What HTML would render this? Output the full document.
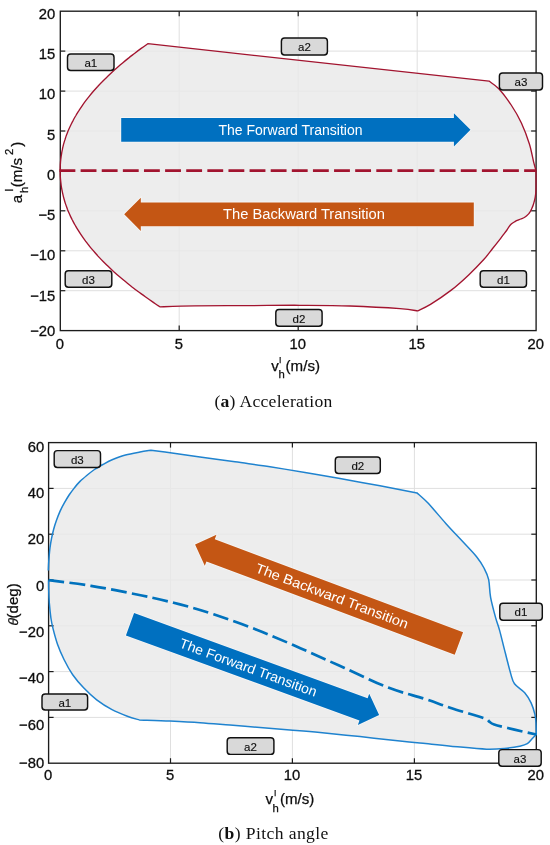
<!DOCTYPE html>
<html lang="en"><head><meta charset="utf-8"><title>Transition envelopes</title>
<style>html,body{margin:0;padding:0;background:#fff}svg{display:block}</style></head>
<body>
<svg width="550" height="845" viewBox="0 0 550 845" font-family="'Liberation Sans', Arial, sans-serif">
<rect width="550" height="845" fill="#fff"/>
<g stroke="#dfdfdf" stroke-width="1"><line x1="179.2" y1="11.2" x2="179.2" y2="330.6"/><line x1="298.2" y1="11.2" x2="298.2" y2="330.6"/><line x1="417.2" y1="11.2" x2="417.2" y2="330.6"/><line x1="60.3" y1="290.7" x2="536.1" y2="290.7"/><line x1="60.3" y1="250.8" x2="536.1" y2="250.8"/><line x1="60.3" y1="210.8" x2="536.1" y2="210.8"/><line x1="60.3" y1="170.9" x2="536.1" y2="170.9"/><line x1="60.3" y1="131.0" x2="536.1" y2="131.0"/><line x1="60.3" y1="91.1" x2="536.1" y2="91.1"/><line x1="60.3" y1="51.1" x2="536.1" y2="51.1"/></g>
<path d="M60.2 170.5 C60.2 169.6 60.2 166.9 60.3 165.1 C60.4 163.4 60.5 161.7 60.7 160.0 C60.9 158.3 61.1 156.6 61.4 154.9 C61.6 153.2 61.9 151.5 62.3 149.9 C62.6 148.2 63.0 146.5 63.4 144.9 C63.9 143.2 64.3 141.6 64.9 139.9 C65.4 138.3 65.9 136.6 66.5 135.0 C67.2 133.4 67.8 131.7 68.5 130.1 C69.2 128.4 69.9 126.8 70.7 125.2 C71.5 123.6 72.3 121.9 73.2 120.3 C74.0 118.7 74.9 117.1 75.9 115.5 C76.8 113.8 77.8 112.2 78.9 110.6 C79.9 109.0 81.0 107.4 82.1 105.8 C83.2 104.2 84.4 102.5 85.6 100.9 C86.8 99.3 88.1 97.7 89.4 96.1 C90.7 94.5 92.0 92.9 93.4 91.3 C94.8 89.7 96.2 88.1 97.7 86.5 C99.1 84.9 100.6 83.3 102.2 81.7 C103.7 80.1 105.3 78.6 107.0 77.0 C108.6 75.4 110.3 73.8 112.0 72.2 C113.8 70.6 115.5 69.0 117.3 67.4 C119.2 65.8 121.0 64.3 122.9 62.7 C124.8 61.1 126.8 59.5 128.8 57.9 C130.7 56.3 132.8 54.8 134.8 53.2 C136.9 51.6 139.0 50.0 141.2 48.4 C143.4 46.9 146.7 44.5 147.8 43.7 L489.0 81.1 C490.6 82.4 495.1 84.8 498.8 88.8 C502.5 92.8 507.4 99.3 511.2 105.0 C515.0 110.7 518.4 116.5 521.4 123.0 C524.4 129.5 527.4 137.5 529.4 144.0 C531.4 150.5 532.5 157.4 533.6 161.8 C534.7 166.2 535.6 169.2 536.0 170.7 C536.0 173.2 536.0 181.8 536.0 185.5 C536.0 189.2 535.9 190.6 535.8 192.6 C535.7 194.6 535.4 195.9 535.2 197.3 C535.0 198.7 534.7 199.6 534.4 200.9 C534.1 202.2 533.6 203.8 533.2 205.0 C532.8 206.2 532.4 207.1 532.0 208.0 C531.6 208.9 531.3 209.7 530.8 210.6 C530.3 211.5 529.8 212.5 529.1 213.3 C528.4 214.2 527.5 215.0 526.7 215.7 C525.9 216.4 525.3 216.9 524.3 217.5 C523.3 218.1 522.0 218.5 520.8 219.0 C519.6 219.5 518.3 219.9 517.2 220.4 C516.1 220.9 515.3 221.4 514.3 222.0 C513.3 222.6 512.2 223.2 511.3 224.0 C510.4 224.8 509.7 225.8 508.9 226.9 C508.1 228.0 507.6 229.1 506.6 230.5 C505.6 231.9 504.2 233.6 503.0 235.2 C501.8 236.8 501.3 237.6 499.5 239.9 C497.7 242.2 495.0 245.6 492.4 248.8 C489.8 252.0 487.9 255.0 484.0 259.3 C480.1 263.6 474.2 269.7 468.7 274.9 C463.2 280.1 457.3 285.5 450.9 290.4 C444.5 295.3 436.1 301.0 430.5 304.4 C424.9 307.8 419.8 309.8 417.6 310.9 C414.7 310.5 411.3 309.4 400.0 308.6 C388.7 307.8 366.7 306.6 350.0 306.0 C333.3 305.4 316.7 305.4 300.0 305.3 C283.3 305.2 267.5 305.5 250.0 305.6 C232.5 305.7 210.0 305.7 195.0 305.9 C180.0 306.1 165.9 306.7 160.1 306.9 C158.8 306.1 155.0 303.5 152.6 301.9 C150.1 300.2 147.7 298.5 145.3 296.8 C143.0 295.1 140.6 293.4 138.4 291.8 C136.1 290.1 133.9 288.4 131.7 286.7 C129.6 285.0 127.4 283.3 125.4 281.6 C123.3 279.9 121.3 278.2 119.3 276.5 C117.3 274.8 115.4 273.1 113.5 271.4 C111.7 269.7 109.9 268.0 108.1 266.3 C106.3 264.6 104.6 262.9 102.9 261.2 C101.2 259.5 99.6 257.8 98.0 256.1 C96.5 254.4 94.9 252.7 93.5 250.9 C92.0 249.2 90.5 247.5 89.2 245.8 C87.8 244.1 86.5 242.3 85.2 240.6 C83.9 238.9 82.7 237.2 81.5 235.4 C80.3 233.7 79.2 232.0 78.1 230.2 C77.0 228.5 76.0 226.7 75.0 225.0 C74.0 223.3 73.1 221.5 72.2 219.8 C71.3 218.0 70.4 216.3 69.7 214.5 C68.9 212.7 68.1 211.0 67.4 209.2 C66.8 207.4 66.1 205.7 65.5 203.9 C64.9 202.1 64.4 200.3 63.9 198.5 C63.4 196.7 63.0 194.9 62.6 193.1 C62.2 191.3 61.8 189.5 61.5 187.7 C61.2 185.8 61.0 184.0 60.8 182.1 C60.6 180.3 60.4 178.4 60.3 176.5 C60.2 174.5 60.2 171.5 60.2 170.5 Z" fill="#e8e8e8" fill-opacity="0.8" stroke="none"/>
<rect x="60.3" y="11.2" width="475.8" height="319.4" fill="none" stroke="#1c1c1c" stroke-width="1.35"/>
<g stroke="#1c1c1c" stroke-width="1.2"><line x1="179.2" y1="330.6" x2="179.2" y2="325.6"/><line x1="179.2" y1="11.2" x2="179.2" y2="16.2"/><line x1="298.2" y1="330.6" x2="298.2" y2="325.6"/><line x1="298.2" y1="11.2" x2="298.2" y2="16.2"/><line x1="417.2" y1="330.6" x2="417.2" y2="325.6"/><line x1="417.2" y1="11.2" x2="417.2" y2="16.2"/><line x1="60.3" y1="290.7" x2="65.3" y2="290.7"/><line x1="536.1" y1="290.7" x2="531.1" y2="290.7"/><line x1="60.3" y1="250.8" x2="65.3" y2="250.8"/><line x1="536.1" y1="250.8" x2="531.1" y2="250.8"/><line x1="60.3" y1="210.8" x2="65.3" y2="210.8"/><line x1="536.1" y1="210.8" x2="531.1" y2="210.8"/><line x1="60.3" y1="170.9" x2="65.3" y2="170.9"/><line x1="536.1" y1="170.9" x2="531.1" y2="170.9"/><line x1="60.3" y1="131.0" x2="65.3" y2="131.0"/><line x1="536.1" y1="131.0" x2="531.1" y2="131.0"/><line x1="60.3" y1="91.1" x2="65.3" y2="91.1"/><line x1="536.1" y1="91.1" x2="531.1" y2="91.1"/><line x1="60.3" y1="51.1" x2="65.3" y2="51.1"/><line x1="536.1" y1="51.1" x2="531.1" y2="51.1"/></g>
<path d="M60.2 170.5 C60.2 169.6 60.2 166.9 60.3 165.1 C60.4 163.4 60.5 161.7 60.7 160.0 C60.9 158.3 61.1 156.6 61.4 154.9 C61.6 153.2 61.9 151.5 62.3 149.9 C62.6 148.2 63.0 146.5 63.4 144.9 C63.9 143.2 64.3 141.6 64.9 139.9 C65.4 138.3 65.9 136.6 66.5 135.0 C67.2 133.4 67.8 131.7 68.5 130.1 C69.2 128.4 69.9 126.8 70.7 125.2 C71.5 123.6 72.3 121.9 73.2 120.3 C74.0 118.7 74.9 117.1 75.9 115.5 C76.8 113.8 77.8 112.2 78.9 110.6 C79.9 109.0 81.0 107.4 82.1 105.8 C83.2 104.2 84.4 102.5 85.6 100.9 C86.8 99.3 88.1 97.7 89.4 96.1 C90.7 94.5 92.0 92.9 93.4 91.3 C94.8 89.7 96.2 88.1 97.7 86.5 C99.1 84.9 100.6 83.3 102.2 81.7 C103.7 80.1 105.3 78.6 107.0 77.0 C108.6 75.4 110.3 73.8 112.0 72.2 C113.8 70.6 115.5 69.0 117.3 67.4 C119.2 65.8 121.0 64.3 122.9 62.7 C124.8 61.1 126.8 59.5 128.8 57.9 C130.7 56.3 132.8 54.8 134.8 53.2 C136.9 51.6 139.0 50.0 141.2 48.4 C143.4 46.9 146.7 44.5 147.8 43.7 L489.0 81.1 C490.6 82.4 495.1 84.8 498.8 88.8 C502.5 92.8 507.4 99.3 511.2 105.0 C515.0 110.7 518.4 116.5 521.4 123.0 C524.4 129.5 527.4 137.5 529.4 144.0 C531.4 150.5 532.5 157.4 533.6 161.8 C534.7 166.2 535.6 169.2 536.0 170.7 C536.0 173.2 536.0 181.8 536.0 185.5 C536.0 189.2 535.9 190.6 535.8 192.6 C535.7 194.6 535.4 195.9 535.2 197.3 C535.0 198.7 534.7 199.6 534.4 200.9 C534.1 202.2 533.6 203.8 533.2 205.0 C532.8 206.2 532.4 207.1 532.0 208.0 C531.6 208.9 531.3 209.7 530.8 210.6 C530.3 211.5 529.8 212.5 529.1 213.3 C528.4 214.2 527.5 215.0 526.7 215.7 C525.9 216.4 525.3 216.9 524.3 217.5 C523.3 218.1 522.0 218.5 520.8 219.0 C519.6 219.5 518.3 219.9 517.2 220.4 C516.1 220.9 515.3 221.4 514.3 222.0 C513.3 222.6 512.2 223.2 511.3 224.0 C510.4 224.8 509.7 225.8 508.9 226.9 C508.1 228.0 507.6 229.1 506.6 230.5 C505.6 231.9 504.2 233.6 503.0 235.2 C501.8 236.8 501.3 237.6 499.5 239.9 C497.7 242.2 495.0 245.6 492.4 248.8 C489.8 252.0 487.9 255.0 484.0 259.3 C480.1 263.6 474.2 269.7 468.7 274.9 C463.2 280.1 457.3 285.5 450.9 290.4 C444.5 295.3 436.1 301.0 430.5 304.4 C424.9 307.8 419.8 309.8 417.6 310.9 C414.7 310.5 411.3 309.4 400.0 308.6 C388.7 307.8 366.7 306.6 350.0 306.0 C333.3 305.4 316.7 305.4 300.0 305.3 C283.3 305.2 267.5 305.5 250.0 305.6 C232.5 305.7 210.0 305.7 195.0 305.9 C180.0 306.1 165.9 306.7 160.1 306.9 C158.8 306.1 155.0 303.5 152.6 301.9 C150.1 300.2 147.7 298.5 145.3 296.8 C143.0 295.1 140.6 293.4 138.4 291.8 C136.1 290.1 133.9 288.4 131.7 286.7 C129.6 285.0 127.4 283.3 125.4 281.6 C123.3 279.9 121.3 278.2 119.3 276.5 C117.3 274.8 115.4 273.1 113.5 271.4 C111.7 269.7 109.9 268.0 108.1 266.3 C106.3 264.6 104.6 262.9 102.9 261.2 C101.2 259.5 99.6 257.8 98.0 256.1 C96.5 254.4 94.9 252.7 93.5 250.9 C92.0 249.2 90.5 247.5 89.2 245.8 C87.8 244.1 86.5 242.3 85.2 240.6 C83.9 238.9 82.7 237.2 81.5 235.4 C80.3 233.7 79.2 232.0 78.1 230.2 C77.0 228.5 76.0 226.7 75.0 225.0 C74.0 223.3 73.1 221.5 72.2 219.8 C71.3 218.0 70.4 216.3 69.7 214.5 C68.9 212.7 68.1 211.0 67.4 209.2 C66.8 207.4 66.1 205.7 65.5 203.9 C64.9 202.1 64.4 200.3 63.9 198.5 C63.4 196.7 63.0 194.9 62.6 193.1 C62.2 191.3 61.8 189.5 61.5 187.7 C61.2 185.8 61.0 184.0 60.8 182.1 C60.6 180.3 60.4 178.4 60.3 176.5 C60.2 174.5 60.2 171.5 60.2 170.5 Z" fill="none" stroke="#a2142f" stroke-width="1.35" stroke-linejoin="round"/>
<line x1="59.5" y1="170.6" x2="536.1" y2="170.6" stroke="#a2142f" stroke-width="2.7" stroke-dasharray="15.85 5.27"/>
<g font-size="14.8" fill="#0d0d0d" stroke="#0d0d0d" stroke-width="0.3"><text x="59.9" y="348.7" text-anchor="middle">0</text><text x="178.8" y="348.7" text-anchor="middle">5</text><text x="297.8" y="348.7" text-anchor="middle">10</text><text x="416.8" y="348.7" text-anchor="middle">15</text><text x="535.7" y="348.7" text-anchor="middle">20</text><text x="55.3" y="336.2" text-anchor="end">−20</text><text x="55.3" y="300.6" text-anchor="end">−15</text><text x="55.3" y="260.4" text-anchor="end">−10</text><text x="55.3" y="220.2" text-anchor="end">−5</text><text x="55.3" y="179.9" text-anchor="end">0</text><text x="55.3" y="139.7" text-anchor="end">5</text><text x="55.3" y="99.4" text-anchor="end">10</text><text x="55.3" y="59.1" text-anchor="end">15</text><text x="55.3" y="18.9" text-anchor="end">20</text></g>
<g fill="#0d0d0d" stroke="#0d0d0d" stroke-width="0.25"><text x="285.6" y="371" font-size="15.1">(m/s)</text><text x="271.3" y="371" font-size="15.1">v</text><text x="278.4" y="378.4" font-size="11.3">h</text><text x="278.9" y="363.3" font-size="8.6">I</text></g>
<g fill="#0d0d0d" stroke="#0d0d0d" stroke-width="0.25" transform="translate(22,203.3) rotate(-90)"><text x="0" y="0" font-size="15.1">a</text><text x="10.2" y="5.9" font-size="11.3">h</text><text x="11.5" y="-9" font-size="11.6">I</text><text x="16.1" y="0" font-size="15.1">(m/s</text><text x="48.2" y="-9" font-size="11.3">2</text><text x="56.6" y="0" font-size="15.1">)</text></g>
<g transform="translate(121.2,129.8)"><path d="M0 -11.90 L332.70 -11.90 L332.70 -16.60 L349.30 0 L332.70 16.60 L332.70 11.90 L0 11.90 Z" fill="#0070c0" stroke="#fff" stroke-width="1.6" stroke-opacity="0.5" paint-order="stroke"/></g>
<g transform="translate(473.8,214.3) rotate(180)"><path d="M0 -11.90 L333.00 -11.90 L333.00 -16.60 L349.60 0 L333.00 16.60 L333.00 11.90 L0 11.90 Z" fill="#c45614" stroke="#fff" stroke-width="1.6" stroke-opacity="0.5" paint-order="stroke"/></g>
<text x="290.5" y="134.6" text-anchor="middle" font-size="13.8" fill="#fff" textLength="144" lengthAdjust="spacingAndGlyphs">The Forward Transition</text>
<text x="304" y="219.1" text-anchor="middle" font-size="13.8" fill="#fff" textLength="162" lengthAdjust="spacingAndGlyphs">The Backward Transition</text>
<rect x="67.5" y="54.0" width="46.5" height="16.5" rx="3.2" ry="3.2" fill="#d9d9d9" stroke="#111" stroke-width="1.45"/><text x="90.8" y="67.0" text-anchor="middle" font-size="11.5" fill="#111" stroke="#111" stroke-width="0.15">a1</text>
<rect x="281.4" y="38.0" width="46.0" height="17.0" rx="3.2" ry="3.2" fill="#d9d9d9" stroke="#111" stroke-width="1.45"/><text x="304.4" y="51.2" text-anchor="middle" font-size="11.5" fill="#111" stroke="#111" stroke-width="0.15">a2</text>
<rect x="499.4" y="72.9" width="43.1" height="17.0" rx="3.2" ry="3.2" fill="#d9d9d9" stroke="#111" stroke-width="1.45"/><text x="521.0" y="86.1" text-anchor="middle" font-size="11.5" fill="#111" stroke="#111" stroke-width="0.15">a3</text>
<rect x="480.2" y="270.7" width="46.3" height="16.6" rx="3.2" ry="3.2" fill="#d9d9d9" stroke="#111" stroke-width="1.45"/><text x="503.4" y="283.7" text-anchor="middle" font-size="11.5" fill="#111" stroke="#111" stroke-width="0.15">d1</text>
<rect x="275.8" y="309.5" width="46.3" height="16.8" rx="3.2" ry="3.2" fill="#d9d9d9" stroke="#111" stroke-width="1.45"/><text x="299.0" y="322.6" text-anchor="middle" font-size="11.5" fill="#111" stroke="#111" stroke-width="0.15">d2</text>
<rect x="65.2" y="270.7" width="46.6" height="16.6" rx="3.2" ry="3.2" fill="#d9d9d9" stroke="#111" stroke-width="1.45"/><text x="88.5" y="283.7" text-anchor="middle" font-size="11.5" fill="#111" stroke="#111" stroke-width="0.15">d3</text>
<g font-family="'Liberation Serif', 'Times New Roman', serif" font-size="17.6" fill="#111"><text x="214.4" y="406.6" textLength="117.9" lengthAdjust="spacing">(<tspan font-weight="bold">a</tspan>) Acceleration</text></g>
<g stroke="#dfdfdf" stroke-width="1"><line x1="170.5" y1="442.6" x2="170.5" y2="763.2"/><line x1="292.4" y1="442.6" x2="292.4" y2="763.2"/><line x1="414.4" y1="442.6" x2="414.4" y2="763.2"/><line x1="48.6" y1="717.4" x2="536.3" y2="717.4"/><line x1="48.6" y1="671.6" x2="536.3" y2="671.6"/><line x1="48.6" y1="625.8" x2="536.3" y2="625.8"/><line x1="48.6" y1="580.0" x2="536.3" y2="580.0"/><line x1="48.6" y1="534.2" x2="536.3" y2="534.2"/><line x1="48.6" y1="488.4" x2="536.3" y2="488.4"/></g>
<path d="M48.3 570.5 C48.4 568.8 48.5 564.3 48.8 560.5 C49.1 556.7 49.5 551.4 50.0 547.7 C50.5 544.1 50.9 541.6 51.5 538.6 C52.1 535.6 52.8 532.5 53.6 529.5 C54.4 526.5 55.3 523.5 56.4 520.5 C57.5 517.5 58.7 514.3 60.0 511.4 C61.3 508.5 62.7 505.9 64.2 503.2 C65.7 500.5 67.4 497.6 69.1 495.0 C70.8 492.4 72.7 490.0 74.5 487.7 C76.3 485.4 77.9 483.5 80.0 481.4 C82.1 479.3 84.9 477.0 87.3 475.0 C89.7 473.0 91.8 471.3 94.5 469.5 C97.2 467.7 100.6 465.8 103.6 464.1 C106.6 462.4 109.0 461.0 112.7 459.5 C116.4 458.0 121.0 456.2 125.5 455.0 C130.1 453.8 135.8 452.8 140.0 452.0 C144.2 451.2 149.1 450.5 150.9 450.2 C153.2 450.5 156.8 451.0 165.0 452.1 C173.2 453.2 188.3 455.3 200.0 456.9 C211.7 458.5 223.3 460.1 235.0 461.8 C246.7 463.5 258.3 465.0 270.0 466.8 C281.7 468.6 293.3 470.5 305.0 472.5 C316.7 474.5 327.5 476.4 340.0 478.6 C352.5 480.8 367.2 483.4 380.0 485.8 C392.8 488.2 410.8 491.7 417.0 492.9 C418.8 494.6 423.2 498.0 428.0 503.1 C432.8 508.2 439.9 516.8 445.8 523.4 C451.7 530.0 458.5 537.0 463.6 542.5 C468.7 548.0 473.0 552.2 476.4 556.5 C479.8 560.8 482.0 564.2 484.0 568.0 C486.0 571.8 487.5 574.5 488.6 579.4 C489.7 584.3 489.4 590.9 490.6 597.3 C491.8 603.7 494.1 612.1 495.6 617.6 C497.1 623.1 498.0 624.5 499.6 630.4 C501.2 636.3 503.5 646.1 505.4 653.3 C507.2 660.5 509.2 668.5 510.7 673.6 C512.2 678.7 512.2 680.6 514.5 683.8 C516.8 687.0 521.9 689.5 524.7 692.7 C527.5 695.9 529.4 699.3 531.1 702.9 C532.8 706.5 534.1 711.0 534.9 714.4 C535.7 717.8 535.8 719.9 536.0 723.3 C536.2 726.6 536.2 732.6 536.3 734.5 C535.6 735.2 533.8 737.0 532.3 738.5 C530.8 740.0 529.4 742.3 527.3 743.6 C525.2 744.9 523.0 745.4 519.6 746.2 C516.2 747.0 512.4 747.7 506.9 748.2 C501.4 748.7 495.8 749.5 486.5 749.2 C477.2 748.9 461.1 747.1 450.9 746.2 C440.7 745.3 434.0 744.5 425.5 743.6 C417.0 742.8 410.9 742.3 400.0 741.1 C389.1 739.9 373.3 738.0 360.0 736.6 C346.7 735.2 331.7 733.6 320.0 732.5 C308.3 731.4 300.0 730.8 290.0 730.0 C280.0 729.2 270.0 728.4 260.0 727.6 C250.0 726.8 240.0 725.9 230.0 725.1 C220.0 724.3 210.0 723.4 200.0 722.7 C190.0 722.0 180.1 721.5 170.0 721.0 C159.9 720.5 144.4 720.1 139.3 719.9 C137.3 719.3 131.8 717.9 127.3 716.2 C122.8 714.5 117.1 712.3 112.0 709.6 C106.9 706.9 101.4 703.4 96.7 699.8 C92.0 696.2 87.6 692.0 83.6 687.8 C79.6 683.6 76.0 679.4 72.7 674.7 C69.4 670.0 66.5 664.6 64.0 659.5 C61.5 654.4 59.3 649.3 57.5 644.2 C55.7 639.1 54.2 633.3 53.1 628.9 C52.0 624.5 51.5 622.4 50.9 618.0 C50.3 613.6 49.7 607.4 49.3 602.7 C48.9 598.0 48.8 593.8 48.7 590.0 C48.6 586.2 48.6 581.8 48.6 580.2 Z" fill="#e8e8e8" fill-opacity="0.8" stroke="none"/>
<rect x="48.6" y="442.6" width="487.7" height="320.6" fill="none" stroke="#1c1c1c" stroke-width="1.35"/>
<g stroke="#1c1c1c" stroke-width="1.2"><line x1="170.5" y1="763.2" x2="170.5" y2="758.2"/><line x1="170.5" y1="442.6" x2="170.5" y2="447.6"/><line x1="292.4" y1="763.2" x2="292.4" y2="758.2"/><line x1="292.4" y1="442.6" x2="292.4" y2="447.6"/><line x1="414.4" y1="763.2" x2="414.4" y2="758.2"/><line x1="414.4" y1="442.6" x2="414.4" y2="447.6"/><line x1="48.6" y1="717.4" x2="53.6" y2="717.4"/><line x1="536.3" y1="717.4" x2="531.3" y2="717.4"/><line x1="48.6" y1="671.6" x2="53.6" y2="671.6"/><line x1="536.3" y1="671.6" x2="531.3" y2="671.6"/><line x1="48.6" y1="625.8" x2="53.6" y2="625.8"/><line x1="536.3" y1="625.8" x2="531.3" y2="625.8"/><line x1="48.6" y1="580.0" x2="53.6" y2="580.0"/><line x1="536.3" y1="580.0" x2="531.3" y2="580.0"/><line x1="48.6" y1="534.2" x2="53.6" y2="534.2"/><line x1="536.3" y1="534.2" x2="531.3" y2="534.2"/><line x1="48.6" y1="488.4" x2="53.6" y2="488.4"/><line x1="536.3" y1="488.4" x2="531.3" y2="488.4"/></g>
<path d="M48.3 570.5 C48.4 568.8 48.5 564.3 48.8 560.5 C49.1 556.7 49.5 551.4 50.0 547.7 C50.5 544.1 50.9 541.6 51.5 538.6 C52.1 535.6 52.8 532.5 53.6 529.5 C54.4 526.5 55.3 523.5 56.4 520.5 C57.5 517.5 58.7 514.3 60.0 511.4 C61.3 508.5 62.7 505.9 64.2 503.2 C65.7 500.5 67.4 497.6 69.1 495.0 C70.8 492.4 72.7 490.0 74.5 487.7 C76.3 485.4 77.9 483.5 80.0 481.4 C82.1 479.3 84.9 477.0 87.3 475.0 C89.7 473.0 91.8 471.3 94.5 469.5 C97.2 467.7 100.6 465.8 103.6 464.1 C106.6 462.4 109.0 461.0 112.7 459.5 C116.4 458.0 121.0 456.2 125.5 455.0 C130.1 453.8 135.8 452.8 140.0 452.0 C144.2 451.2 149.1 450.5 150.9 450.2 C153.2 450.5 156.8 451.0 165.0 452.1 C173.2 453.2 188.3 455.3 200.0 456.9 C211.7 458.5 223.3 460.1 235.0 461.8 C246.7 463.5 258.3 465.0 270.0 466.8 C281.7 468.6 293.3 470.5 305.0 472.5 C316.7 474.5 327.5 476.4 340.0 478.6 C352.5 480.8 367.2 483.4 380.0 485.8 C392.8 488.2 410.8 491.7 417.0 492.9 C418.8 494.6 423.2 498.0 428.0 503.1 C432.8 508.2 439.9 516.8 445.8 523.4 C451.7 530.0 458.5 537.0 463.6 542.5 C468.7 548.0 473.0 552.2 476.4 556.5 C479.8 560.8 482.0 564.2 484.0 568.0 C486.0 571.8 487.5 574.5 488.6 579.4 C489.7 584.3 489.4 590.9 490.6 597.3 C491.8 603.7 494.1 612.1 495.6 617.6 C497.1 623.1 498.0 624.5 499.6 630.4 C501.2 636.3 503.5 646.1 505.4 653.3 C507.2 660.5 509.2 668.5 510.7 673.6 C512.2 678.7 512.2 680.6 514.5 683.8 C516.8 687.0 521.9 689.5 524.7 692.7 C527.5 695.9 529.4 699.3 531.1 702.9 C532.8 706.5 534.1 711.0 534.9 714.4 C535.7 717.8 535.8 719.9 536.0 723.3 C536.2 726.6 536.2 732.6 536.3 734.5 C535.6 735.2 533.8 737.0 532.3 738.5 C530.8 740.0 529.4 742.3 527.3 743.6 C525.2 744.9 523.0 745.4 519.6 746.2 C516.2 747.0 512.4 747.7 506.9 748.2 C501.4 748.7 495.8 749.5 486.5 749.2 C477.2 748.9 461.1 747.1 450.9 746.2 C440.7 745.3 434.0 744.5 425.5 743.6 C417.0 742.8 410.9 742.3 400.0 741.1 C389.1 739.9 373.3 738.0 360.0 736.6 C346.7 735.2 331.7 733.6 320.0 732.5 C308.3 731.4 300.0 730.8 290.0 730.0 C280.0 729.2 270.0 728.4 260.0 727.6 C250.0 726.8 240.0 725.9 230.0 725.1 C220.0 724.3 210.0 723.4 200.0 722.7 C190.0 722.0 180.1 721.5 170.0 721.0 C159.9 720.5 144.4 720.1 139.3 719.9 C137.3 719.3 131.8 717.9 127.3 716.2 C122.8 714.5 117.1 712.3 112.0 709.6 C106.9 706.9 101.4 703.4 96.7 699.8 C92.0 696.2 87.6 692.0 83.6 687.8 C79.6 683.6 76.0 679.4 72.7 674.7 C69.4 670.0 66.5 664.6 64.0 659.5 C61.5 654.4 59.3 649.3 57.5 644.2 C55.7 639.1 54.2 633.3 53.1 628.9 C52.0 624.5 51.5 622.4 50.9 618.0 C50.3 613.6 49.7 607.4 49.3 602.7 C48.9 598.0 48.8 593.8 48.7 590.0 C48.6 586.2 48.6 581.8 48.6 580.2 " fill="none" stroke="#1f83cf" stroke-width="1.5" stroke-linejoin="round"/>
<path d="M48.6 580.2 C55.7 581.1 75.4 583.2 90.9 585.8 C106.4 588.3 127.0 592.4 141.8 595.5 C156.7 598.6 168.0 601.3 180.0 604.4 C192.0 607.5 200.7 610.0 213.6 614.3 C226.5 618.6 242.8 624.3 257.3 630.0 C271.9 635.7 286.4 642.1 300.9 648.4 C315.4 654.7 329.9 661.5 344.5 668.0 C359.1 674.5 374.7 682.4 388.2 687.6 C401.7 692.8 415.1 695.7 425.5 699.1 C435.9 702.5 441.1 704.8 450.9 708.0 C460.6 711.2 477.6 716.0 484.0 718.2 C490.4 720.5 487.4 720.5 489.1 721.5 C490.8 722.5 490.0 723.1 494.2 724.5 C498.4 725.9 507.5 727.9 514.5 729.6 C521.5 731.3 532.7 733.7 536.3 734.5" fill="none" stroke="#0072bd" stroke-width="2.7" stroke-dasharray="15.8 5.26"/>
<g font-size="14.8" fill="#0d0d0d" stroke="#0d0d0d" stroke-width="0.3"><text x="48.1" y="780.4" text-anchor="middle">0</text><text x="170.0" y="780.4" text-anchor="middle">5</text><text x="291.9" y="780.4" text-anchor="middle">10</text><text x="413.9" y="780.4" text-anchor="middle">15</text><text x="535.8" y="780.4" text-anchor="middle">20</text><text x="44.2" y="768.4" text-anchor="end">−80</text><text x="44.2" y="729.6" text-anchor="end">−60</text><text x="44.2" y="683.2" text-anchor="end">−40</text><text x="44.2" y="636.9" text-anchor="end">−20</text><text x="44.2" y="590.5" text-anchor="end">0</text><text x="44.2" y="544.2" text-anchor="end">20</text><text x="44.2" y="497.9" text-anchor="end">40</text><text x="44.2" y="451.5" text-anchor="end">60</text></g>
<g fill="#0d0d0d" stroke="#0d0d0d" stroke-width="0.25"><text x="279.9" y="804.1" font-size="15.1">(m/s)</text><text x="265.5" y="804.1" font-size="15.1">v</text><text x="272.6" y="811.5" font-size="11.3">h</text><text x="273.9" y="796.4" font-size="8.6">I</text></g>
<g fill="#0d0d0d" stroke="#0d0d0d" stroke-width="0.25" transform="translate(18.1,626.8) rotate(-90)" font-size="15.1"><text x="0.3" y="0" font-size="13.6" transform="skewX(-14)">θ</text><text x="8.3" y="0">(deg)</text></g>
<g transform="translate(130,624.2) rotate(20.05)"><path d="M0 -11.90 L248.60 -11.90 L248.60 -16.60 L265.20 0 L248.60 16.60 L248.60 11.90 L0 11.90 Z" fill="#0070c0" stroke="#fff" stroke-width="1.6" stroke-opacity="0.5" paint-order="stroke"/><text x="126" y="4.8" text-anchor="middle" font-size="13.8" fill="#fff" textLength="145" lengthAdjust="spacingAndGlyphs">The Forward Transition</text></g>
<g transform="translate(458.9,643.5) rotate(20.57)"><g transform="rotate(180)"><path d="M0 -11.90 L265.20 -11.90 L265.20 -16.60 L281.80 0 L265.20 16.60 L265.20 11.90 L0 11.90 Z" fill="#c45614" stroke="#fff" stroke-width="1.6" stroke-opacity="0.5" paint-order="stroke"/></g><text x="-135.5" y="4.8" text-anchor="middle" font-size="13.8" fill="#fff" textLength="162" lengthAdjust="spacingAndGlyphs">The Backward Transition</text></g>
<rect x="54.2" y="450.6" width="46.3" height="16.9" rx="3.2" ry="3.2" fill="#d9d9d9" stroke="#111" stroke-width="1.45"/><text x="77.3" y="463.8" text-anchor="middle" font-size="11.5" fill="#111" stroke="#111" stroke-width="0.15">d3</text>
<rect x="335.3" y="457.0" width="45.0" height="16.5" rx="3.2" ry="3.2" fill="#d9d9d9" stroke="#111" stroke-width="1.45"/><text x="357.8" y="469.9" text-anchor="middle" font-size="11.5" fill="#111" stroke="#111" stroke-width="0.15">d2</text>
<rect x="499.8" y="603.2" width="42.5" height="17.0" rx="3.2" ry="3.2" fill="#d9d9d9" stroke="#111" stroke-width="1.45"/><text x="521.0" y="616.4" text-anchor="middle" font-size="11.5" fill="#111" stroke="#111" stroke-width="0.15">d1</text>
<rect x="42.0" y="694.0" width="45.6" height="16.0" rx="3.2" ry="3.2" fill="#d9d9d9" stroke="#111" stroke-width="1.45"/><text x="64.8" y="706.7" text-anchor="middle" font-size="11.5" fill="#111" stroke="#111" stroke-width="0.15">a1</text>
<rect x="227.2" y="737.8" width="46.7" height="16.6" rx="3.2" ry="3.2" fill="#d9d9d9" stroke="#111" stroke-width="1.45"/><text x="250.5" y="750.8" text-anchor="middle" font-size="11.5" fill="#111" stroke="#111" stroke-width="0.15">a2</text>
<rect x="498.8" y="749.6" width="42.4" height="16.6" rx="3.2" ry="3.2" fill="#d9d9d9" stroke="#111" stroke-width="1.45"/><text x="520.0" y="762.6" text-anchor="middle" font-size="11.5" fill="#111" stroke="#111" stroke-width="0.15">a3</text>
<g font-family="'Liberation Serif', 'Times New Roman', serif" font-size="17.6" fill="#111"><text x="218.2" y="839.2" textLength="110.2" lengthAdjust="spacing">(<tspan font-weight="bold">b</tspan>) Pitch angle</text></g>
</svg>
</body></html>
